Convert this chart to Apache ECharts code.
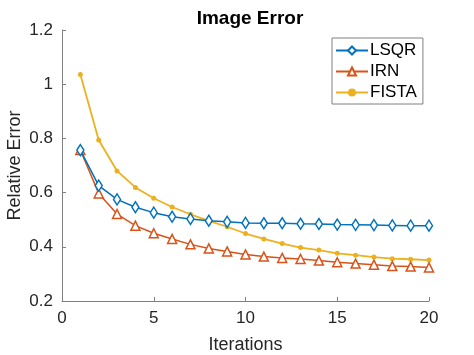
<!DOCTYPE html>
<html><head><meta charset="utf-8">
<script src="https://cdn.jsdelivr.net/npm/echarts@6/dist/echarts.min.js"></script>
<style>html,body{margin:0;padding:0;background:#fff}#c{width:474px;height:355px}</style>
</head><body><div id="c"></div>
<script>
const iterations = [1,2,3,4,5,6,7,8,9,10,11,12,13,14,15,16,17,18,19,20];
const lsqr = [0.757,0.626,0.575,0.546,0.526,0.511,0.503,0.496,0.492,0.488,0.487,0.487,0.485,0.484,0.482,0.481,0.480,0.479,0.478,0.478];
const irn = [0.757,0.597,0.521,0.478,0.450,0.429,0.409,0.394,0.383,0.372,0.364,0.359,0.355,0.349,0.343,0.338,0.334,0.329,0.327,0.324];
const fista = [1.036,0.794,0.680,0.619,0.579,0.547,0.520,0.496,0.474,0.449,0.429,0.412,0.397,0.388,0.376,0.369,0.362,0.356,0.354,0.351];
const xTicks = [0,5,10,15,20];
const yTicks = [0.2,0.4,0.6,0.8,1,1.2];

const font = 'Liberation Sans, Arial, sans-serif';
const pair = a => iterations.map((x,i)=>[x,a[i]]);
const chart = echarts.init(document.getElementById('c'));
const axisLine = {show:true,lineStyle:{color:'#808080',width:1}};
const axisTick = {show:true,inside:true,length:4,lineStyle:{color:'#808080'}};
const labelBase = {color:'#262626',fontSize:17,fontFamily:font,margin:9};
const nameStyle = {color:'#262626',fontSize:18,fontFamily:font};
chart.setOption({
  animation:false,
  backgroundColor:'#fff',
  title:{text:'Image Error',left:245,top:4,textAlign:'center',textStyle:{fontSize:19,fontWeight:'bold',color:'#000',fontFamily:font}},
  grid:{left:62,right:45,top:30,bottom:54,containLabel:false,outerBoundsMode:'none'},
  legend:{
    left:332,top:38,orient:'vertical',itemWidth:32,itemHeight:10,itemGap:4,
    padding:[4,6,3,3],borderColor:'#808080',borderWidth:1,backgroundColor:'#fff',
    textStyle:{fontSize:17,color:'#000',fontFamily:font,padding:[0,0,0,-3]},
    data:['LSQR','IRN','FISTA']
  },
  xAxis:{type:'value',min:0,max:20,interval:5,name:'Iterations',nameLocation:'middle',nameGap:35,nameMoveOverlap:false,
    axisLine,axisTick,splitLine:{show:false},nameTextStyle:nameStyle,
    axisLabel:Object.assign({},labelBase,{formatter:v=>xTicks.includes(v)?String(v):''})},
  yAxis:{type:'value',min:0.2,max:1.2,interval:0.2,name:'Relative Error',nameLocation:'middle',nameGap:38,nameMoveOverlap:false,
    axisLine,axisTick,splitLine:{show:false},nameTextStyle:nameStyle,
    axisLabel:Object.assign({},labelBase,{formatter:v=>{const t=yTicks.find(y=>Math.abs(y-v)<1e-6);return t===undefined?'':String(t);}})},
  series:[
    {name:'LSQR',type:'line',data:pair(lsqr),symbol:'diamond',symbolSize:[7,11],
     lineStyle:{color:'#0072BD',width:1.5},itemStyle:{color:'#fff',borderColor:'#0072BD',borderWidth:1.5},z:3},
    {name:'IRN',type:'line',data:pair(irn),symbol:'triangle',symbolSize:9,
     lineStyle:{color:'#D95319',width:1.5},itemStyle:{color:'#fff',borderColor:'#D95319',borderWidth:1.5},z:2},
    {name:'FISTA',type:'line',data:pair(fista),symbol:'circle',symbolSize:5,
     lineStyle:{color:'#EDB120',width:1.8},itemStyle:{color:'#EDB120',borderColor:'#EDB120',borderWidth:0},z:1}
  ]
});
</script></body></html>
